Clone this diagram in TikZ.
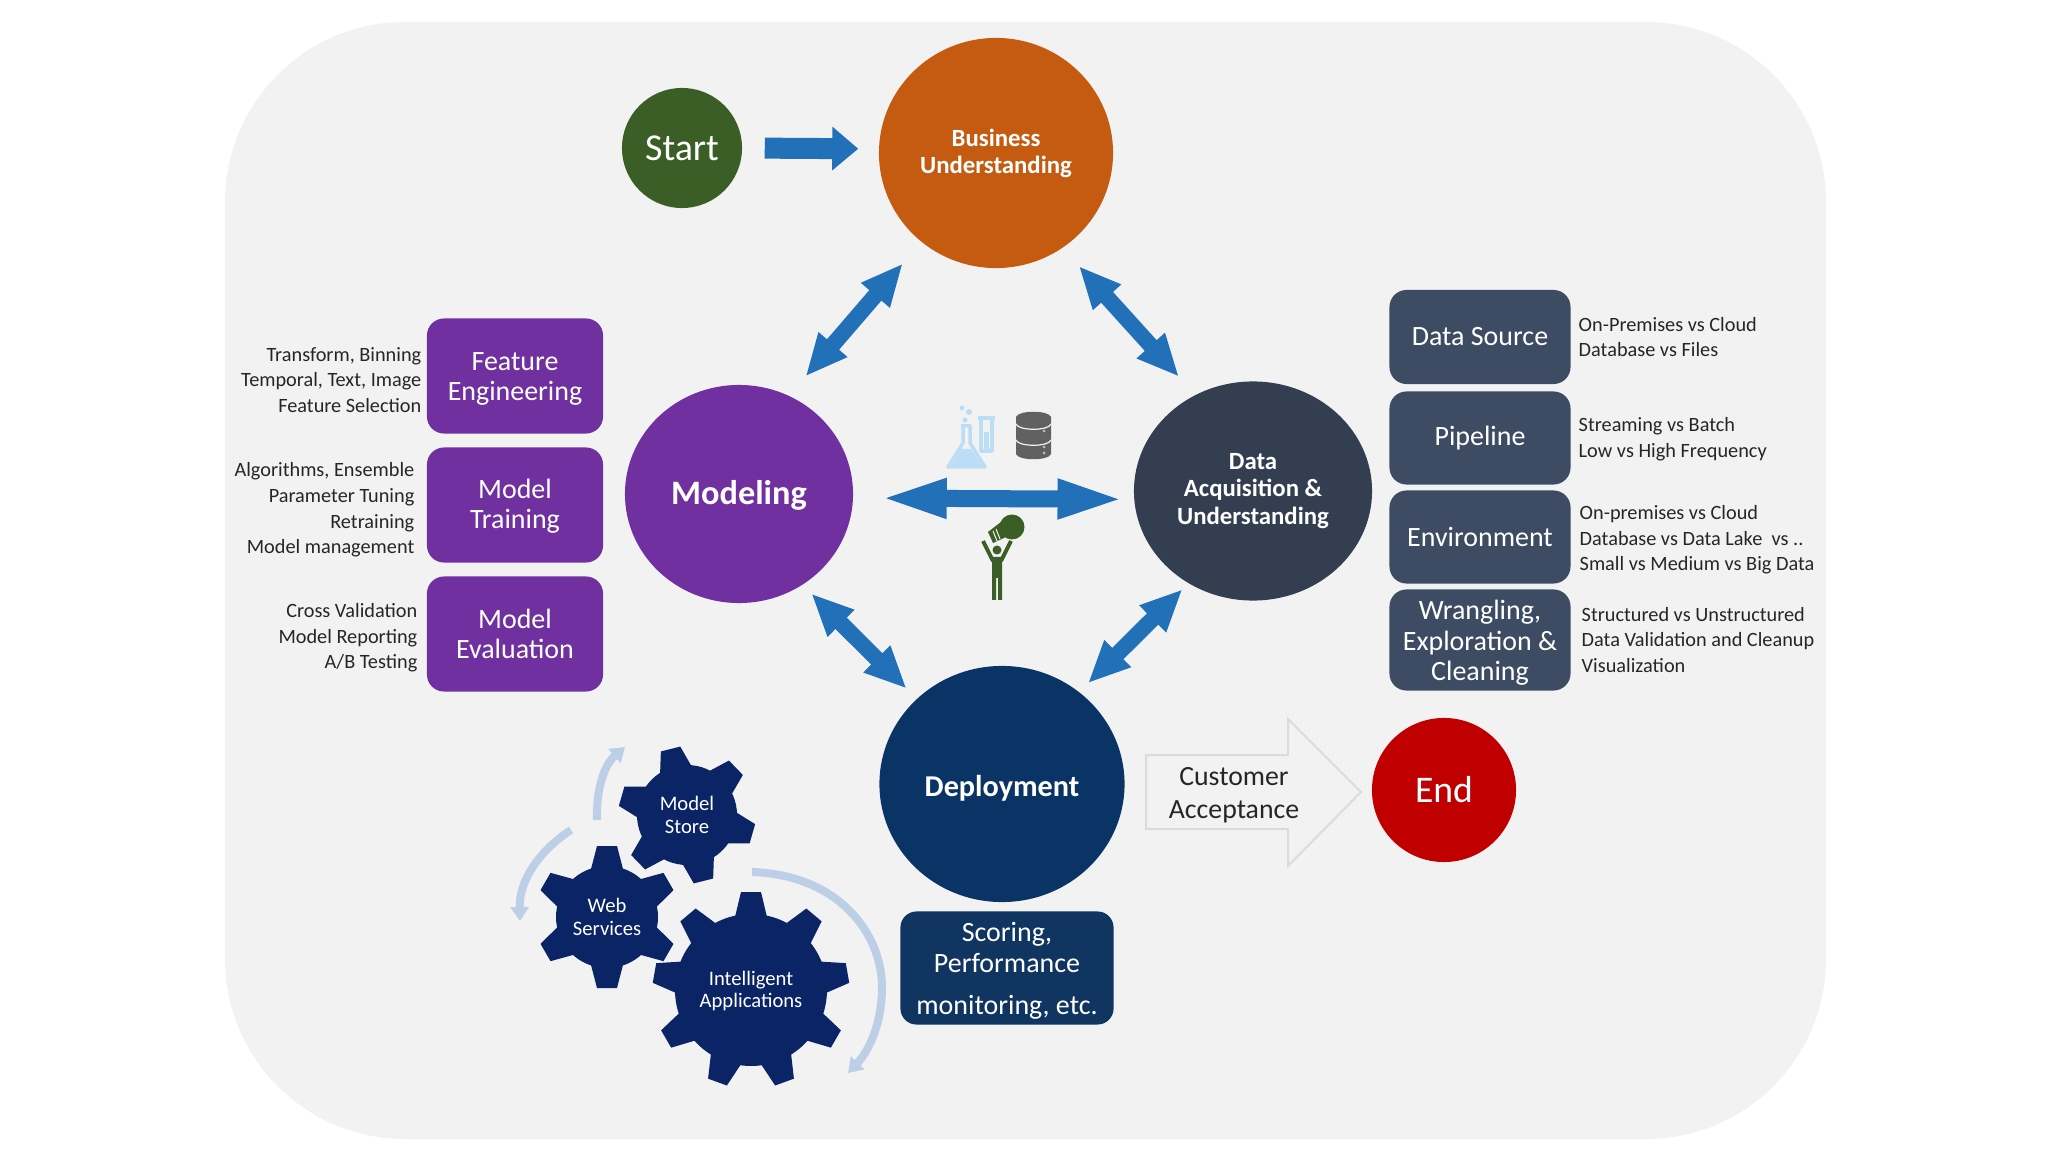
\documentclass[tikz,border=0pt]{standalone}
\usepackage{fontspec}
\setmainfont{Carlito}
\usepackage{tikz}
\usetikzlibrary{arrows.meta}
\usetikzlibrary{shapes.geometric}
\usepackage{xcolor}
\definecolor{panelgray}{HTML}{F2F2F3}
\definecolor{arrowblue}{HTML}{2271B8}
\definecolor{arcblue}{HTML}{BCCFE6}
\definecolor{boxslate}{HTML}{3E4C63}
\definecolor{gearblue}{HTML}{0B2466}
\definecolor{iconblue}{HTML}{BBDDF5}
\definecolor{mangreen}{HTML}{3B5E26}
\definecolor{modelpurple}{HTML}{7030A0}
\definecolor{bizorange}{HTML}{C55A11}
\definecolor{dataslate}{HTML}{333F50}
\definecolor{deploynavy}{HTML}{0A3466}
\definecolor{scorenavy}{HTML}{103561}
\definecolor{endred}{HTML}{C00000}
\newcommand{\fsize}[2]{\fontsize{#1}{#2}\selectfont}
\newcommand{\dropline}[1]{\rule{0pt}{#1}}
% center x, center y, teeth, inner radius, outer radius, first tooth angle
\newcommand{\gearshape}[6]{
	\fill[gearblue] (#1,#2) circle[radius=#4];
	\foreach \i in {1,...,#3} {
		\pgfmathsetmacro{\a}{#6+(\i-1)*360/#3}
		\fill[gearblue, shift={(#1,#2)}, rotate=\a] (#4-3,-16) -- (#5,-10) -- (#5,10) -- (#4-3,16) -- cycle;
	}
}
\tikzset{
	disc/.style={circle, inner sep=0pt, text=white, align=center},
	oval/.style={ellipse, inner sep=0pt, text=white, align=center},
	phasebox/.style={rectangle, rounded corners=0.17cm, inner sep=0pt, text=white, align=center, minimum width=1.76cm, minimum height=1.15cm, fill=#1, font=\fsize{7.95}{8.6}},
	sidenote/.style={inner sep=0pt, text=black!85, font=\fsize{5.77}{7.3}},
	blockboth/.style={draw=arrowblue, line width=0.16cm, {Triangle[length=0.42cm,width=0.35cm]}-{Triangle[length=0.42cm,width=0.35cm]}},
	turnarc/.style={draw=arcblue, line width=0.08cm, -{Triangle[length=0.14cm,width=0.18cm]}},
	gearlabel/.style={inner sep=0pt, text=white, align=center, font=\fsize{5.87}{6.4}},
}
\begin{document}
\begin{tikzpicture}[x=0.01cm, y=-0.01cm]
	\useasboundingbox (0,0) rectangle (2048,1152);
	\fill[white] (0,0) rectangle (2048,1152);
	\fill[panelgray, rounded corners=1.8cm] (225,22) rectangle (1826,1139);

	% main circles
	\node[disc, minimum size=1.2cm, fill=mangreen, font=\fsize{10.8}{12}] (start) at (682,148) {Start};
	\node[oval, minimum width=2.34cm, minimum height=2.3cm, fill=bizorange, font=\bfseries\fsize{7.05}{7.7}] (business) at (996,153) {Business\\Understanding};
	\node[oval, minimum width=2.28cm, minimum height=2.18cm, fill=modelpurple, font=\bfseries\fsize{9.75}{11}] (modeling) at (739,494) {\dropline{0.27cm}Modeling};
	\node[oval, minimum width=2.38cm, minimum height=2.19cm, fill=dataslate, font=\bfseries\fsize{7.05}{7.7}] (data) at (1253,491) {Data\\Acquisition \&\\Understanding};
	\node[oval, minimum width=2.45cm, minimum height=2.36cm, fill=deploynavy, font=\bfseries\fsize{8.6}{10}] (deploy) at (1002,784) {\dropline{0.29cm}Deployment};
	\node[disc, minimum size=1.44cm, fill=endred, font=\fsize{10.7}{12}] (end) at (1444,790) {End};

	% arrows between circles
	\draw[draw=arrowblue, line width=0.21cm, -{Triangle[length=0.26cm,width=0.42cm]}, shorten <=0.22cm, shorten >=0.2cm] (start.0) -- (business.178);
	\draw[blockboth, shorten <=0.25cm, shorten >=0.28cm] (modeling.63) -- (business.230);
	\draw[blockboth, shorten <=0.24cm, shorten >=0.24cm] (business.-55) -- (data.121);
	\draw[blockboth, shorten <=0.12cm, shorten >=0.14cm] (modeling.-55) -- (deploy.135);
	\draw[blockboth, shorten <=0.08cm, shorten >=0.12cm] (data.235) -- (deploy.50);
	\draw[draw=arrowblue, line width=0.17cm, {Triangle[length=0.69cm,width=0.35cm]}-{Triangle[length=0.69cm,width=0.35cm]}, shorten <=0.24cm, shorten >=0.07cm] (modeling.-2) -- (data.184);

	% modeling boxes
	\node[phasebox=modelpurple] (feature) at (515,376) {\dropline{0.24cm}Feature\\Engineering};
	\node[phasebox=modelpurple] (training) at (515,505) {\dropline{0.22cm}Model\\Training};
	\node[phasebox=modelpurple] (evaluation) at (515,634) {Model\\Evaluation};
	\node[sidenote, anchor=east, align=right] (featurenote) at (422,380) {Transform, Binning\\Temporal, Text, Image\\Feature Selection};
	\node[sidenote, anchor=east, align=right] (trainingnote) at (415,510) {Algorithms, Ensemble\\Parameter Tuning\\Retraining\\Model management};
	\node[sidenote, anchor=east, align=right] (evaluationnote) at (418,638) {Cross Validation\\Model Reporting\\A/B Testing};

	% data boxes
	\node[phasebox=boxslate, minimum width=1.81cm, minimum height=0.94cm] (source) at (1480,337) {Data Source};
	\node[phasebox=boxslate, minimum width=1.81cm, minimum height=0.93cm] (pipeline) at (1480,438) {Pipeline};
	\node[phasebox=boxslate, minimum width=1.81cm, minimum height=0.93cm] (environment) at (1480,537) {Environment};
	\node[phasebox=boxslate, minimum width=1.81cm, minimum height=1.01cm] (wrangling) at (1480,640) {\dropline{0.25cm}Wrangling,\\Exploration \&\\Cleaning};
	\node[sidenote, anchor=west, align=left] (sourcenote) at (1578,337) {On-Premises vs Cloud\\Database vs Files};
	\node[sidenote, anchor=west, align=left] (pipelinenote) at (1578,439) {Streaming vs Batch\\Low vs High Frequency};
	\node[sidenote, anchor=west, align=left] (environmentnote) at (1579,540) {On-premises vs Cloud\\Database vs Data Lake\ \ vs ..\\Small vs Medium vs Big Data};
	\node[sidenote, anchor=west, align=left] (wranglingnote) at (1581,640) {Structured vs Unstructured\\Data Validation and Cleanup\\Visualization};

	% scoring box and acceptance arrow
	\node[phasebox=scorenavy, minimum width=2.13cm, minimum height=1.13cm, rounded corners=0.16cm] (scoring) at (1007,968) {\dropline{0.25cm}Scoring,\\Performance\\[0.12cm]monitoring, etc.};
	\draw[draw=black!14, fill=panelgray, line width=0.02cm] (1146,755) -- (1288,755) -- (1288,719) -- (1361,792) -- (1288,866) -- (1288,829) -- (1146,829) -- cycle;
	\node[inner sep=0pt, text=black!85, align=center, font=\fsize{7.9}{9.4}] (accept) at (1234,795) {Customer\\Acceptance};

	% gears
	\gearshape{687}{815}{6}{50}{68}{104}
	\gearshape{607}{917}{6}{51}{71}{90}
	\gearshape{751}{990}{9}{76}{98}{90}
	\node[gearlabel] (store) at (687,815) {Model\\Store};
	\node[gearlabel] (services) at (607,917) {Web\\Services};
	\node[gearlabel] (apps) at (751,991) {Intelligent\\Applications};
	\draw[turnarc] (597,820) .. controls (596,790) and (604,765) .. (625,747);
	\draw[turnarc] (571,830) .. controls (540,850) and (519,880) .. (520,921);
	\draw[turnarc] (752,872) .. controls (840,875) and (882,935) .. (882,987) .. controls (882,1025) and (868,1052) .. (848,1073);

	% flask and tube
	\fill[iconblue] (951,466) -- (961,449) -- (971,449) -- (983,466) -- cycle;
	\draw[iconblue, line width=0.035cm, line join=round] (961,426) -- (971,426) (963,426) -- (963,443) -- (948,467) -- (985,467) -- (970,443) -- (970,426);
	\draw[iconblue, line width=0.035cm, line join=round] (978,418) -- (995,418) (981,418) -- (981,451) -- (992,451) -- (992,418);
	\fill[iconblue] (984,432) rectangle (989,449);
	\fill[iconblue] (962,408) circle[radius=2.5] (969,412) circle[radius=3] (965,420) circle[radius=2.5];

	% database
	\fill[black!62] (1016,417) -- (1016,454) .. controls (1018,461) and (1049,461) .. (1051,454) -- (1051,417) .. controls (1049,410) and (1018,410) .. (1016,417) -- cycle;
	\foreach \top in {424,440} {
		\draw[panelgray, line width=0.012cm] (1016,\top) .. controls (1018,\top+7) and (1049,\top+7) .. (1051,\top);
		\fill[black!25] (1044,\top+7) circle[radius=1.5];
	}
	\fill[black!25] (1044,453) circle[radius=1.5];

	% person with bulb
	\fill[mangreen] (992,557) -- (1002,557) -- (1002,600) -- (998,600) -- (998,578) -- (996,578) -- (996,600) -- (992,600) -- cycle;
	\fill[mangreen] (997,550) circle[radius=4.5];
	\draw[mangreen, line width=0.04cm] (993,561) -- (983,541) (1001,561) -- (1011,541);
	\fill[mangreen] (1012,527) circle[radius=12.5];
	\fill[mangreen] (1001,522) -- (1006,537) -- (993,543) -- (988,532) -- cycle;
	\draw[panelgray, line width=0.01cm] (993,531) -- (997,541) (996,529) -- (1000,539);
\end{tikzpicture}
\end{document}
